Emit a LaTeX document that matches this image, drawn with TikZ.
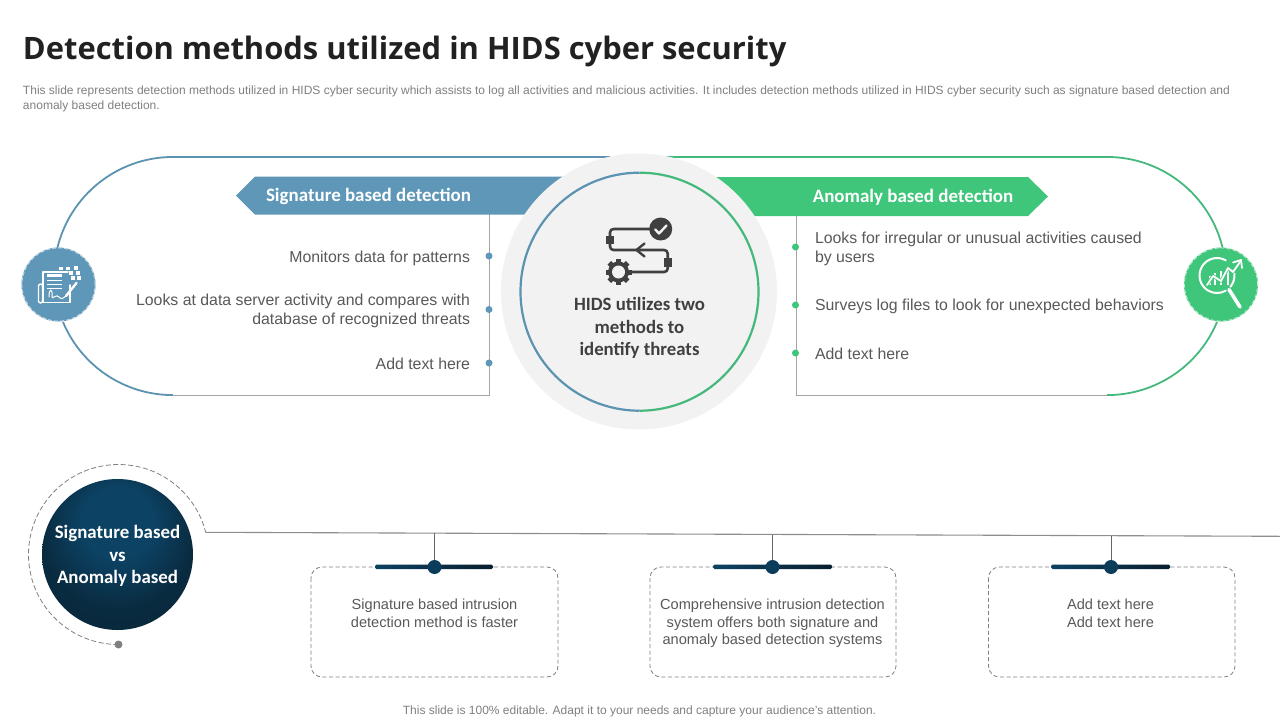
\documentclass[tikz,border=0pt]{standalone}
\usepackage{fontspec}
\setmainfont{Liberation Sans}
\newfontfamily\titlefont{Open Sans}
\newfontfamily\headfont{Carlito}
\usetikzlibrary{calc}
\definecolor{sigblue}{HTML}{5F97B8}
\definecolor{sigline}{HTML}{5B93B1}
\definecolor{anogreen}{HTML}{3FC67B}
\definecolor{anoline}{HTML}{45B97C}
\definecolor{bodygray}{HTML}{595959}
\definecolor{softgray}{HTML}{808080}
\definecolor{rulegray}{HTML}{A6A6A6}
\definecolor{icondark}{HTML}{404040}
\definecolor{navya}{HTML}{0C4263}
\definecolor{navyb}{HTML}{081F2E}
\pgfdeclareradialshading{navyball}{\pgfpoint{0bp}{14bp}}{
  color(0bp)=(navya); color(12bp)=(navya); color(25bp)=(navyb!65!navya); color(50bp)=(navyb)}
\tikzset{
  x=1pt,y=-1pt,
  every node/.style={inner sep=0pt,outer sep=0pt},
  leftitem/.style={anchor=east,align=right,text=bodygray,font=\fontsize{15.85}{19}\selectfont},
  rightitem/.style={anchor=west,align=left,text=bodygray,font=\fontsize{15.85}{19}\selectfont},
  boxtext/.style={anchor=north,align=center,text=bodygray,font=\fontsize{14.6}{17.7}\selectfont},
  headtext/.style={text=white,font=\headfont\bfseries\fontsize{18.95}{22}\selectfont},
  centertext/.style={align=center,text=icondark,font=\headfont\bfseries\fontsize{18.8}{22.5}\selectfont},
  ballabel/.style={align=center,text=white,font=\headfont\bfseries\fontsize{18.9}{22.5}\selectfont},
  bluedot/.style={circle,fill=sigblue,minimum size=7pt},
  greendot/.style={circle,fill=anogreen,minimum size=7pt},
  dashbox/.style={draw=softgray,line width=0.8pt,dash pattern=on 4pt off 2.6pt,rounded corners=11pt},
  stem/.style={draw=icondark!80,line width=0.9pt},
  hub/.style={circle,fill=navya!85!navyb,minimum size=14pt},
  iconline/.style={draw=icondark,line width=2.6pt,line cap=round,line join=round,rounded corners=3.5pt},
  wline/.style={draw=white,line width=1pt,line cap=round,line join=round},
}
\begin{document}
\begin{tikzpicture}
\useasboundingbox (0,0) rectangle (1280,720);
\fill[white] (0,0) rectangle (1280,720);

% title and intro
\node[anchor=base west,text=black!87,font=\titlefont\bfseries\fontsize{30.9}{38}\selectfont] (title) at (23,59) {Detection methods utilized in HIDS cyber security};
\node[anchor=north west,align=left,text=softgray,font=\fontsize{12}{14.6}\selectfont] (intro) at (23,85.9) {This slide represents detection methods utilized in HIDS cyber security which assists to log all activities and malicious activities. It includes detection methods utilized in HIDS cyber security such as signature based detection and\\anomaly based detection.};

% outline
\draw[sigline,line width=1.8pt] (56.9,250) arc[start angle=167.4,end angle=90,radius=119pt] -- (610,157);
\draw[sigline,line width=1.8pt] (63,322) arc[start angle=-157.3,end angle=-90,radius=119pt];
\draw[anoline,line width=1.8pt] (1223.1,250) arc[start angle=12.6,end angle=90,radius=119pt] -- (665,157);
\draw[anoline,line width=1.8pt] (1217,322) arc[start angle=-22.7,end angle=-90,radius=119pt];
\draw[rulegray,line width=1pt] (173,395) -- (489,395) -- (489,214);
\draw[rulegray,line width=1pt] (1107,395) -- (796.5,395) -- (796.5,214);

% banners
\fill[sigblue] (236,195.5) -- (255,176.5) -- (590,176.5) -- (590,214.6) -- (255,214.6) -- cycle;
\fill[anogreen] (1048,196.5) -- (1028,177) -- (690,177) -- (690,216) -- (1028,216) -- cycle;
\node[headtext] (sighead) at (368.5,196.8) {Signature based detection};
\node[headtext] (anohead) at (913,197.5) {Anomaly based detection};

% centre circle
\node[circle,fill=black!5,minimum size=276pt] (hubouter) at (639,291.5) {};
\draw[sigline,line width=2.2pt] (639.5,172.7) arc[start angle=90,end angle=270,radius=119pt];
\draw[anoline,line width=2.2pt] (639.5,172.7) arc[start angle=90,end angle=-90,radius=119pt];
\node[centertext] (hubtext) at (639.5,328) {HIDS utilizes two\\methods to\\identify threats};

% centre icon
\draw[iconline] (652,229) -- (610,229) -- (610,250) -- (667.7,250) -- (667.7,272) -- (628,272);
\fill[icondark] (606.3,235.5) rectangle (614,244);
\fill[icondark] (664,257.5) rectangle (672,267);
\draw[icondark,line width=2.4pt,line cap=round,line join=round] (644.5,243.5) -- (636.5,250) -- (644.5,256.5);
\fill[icondark] (660.7,229) circle (11.5pt);
\draw[black!5,line width=2.4pt,line cap=round,line join=round] (655.3,229.5) -- (659,233.5) -- (666.5,225.5);
\fill[icondark] (618.5,272) circle (10.5pt);
\foreach \a in {0,45,...,315}{\fill[icondark,shift={(618.5,272)},rotate=\a] (9pt,-2.5pt) rectangle (13pt,2.5pt);}
\fill[black!5] (618.5,272) circle (6.5pt);

% left icon
\fill[sigblue] (58.5,284.5) circle (37pt);
\draw[white!65!sigblue,line width=0.9pt,dash pattern=on 4pt off 2pt] (58.5,284.5) circle (36.6pt);
\draw[wline,line width=1.5pt,fill=none] (70,285) -- (70,302.5) -- (43,302.5) -- (43,272) -- (68,272);
\draw[wline,line width=1.4pt] (38.5,286) -- (38.5,301) arc[start angle=180,end angle=360,radius=2pt] -- (42.5,286) arc[start angle=0,end angle=180,radius=2pt];
\draw[white,line width=2.2pt] (47,275.5) -- (62,275.5);
\foreach \yy in {280,284,288}{\draw[white,line width=1pt] (47,\yy) -- (62,\yy);}
\draw[white,line width=1pt,line cap=round] (49,297) .. controls (49,287) and (53,289) .. (52,296) .. controls (51,301) and (57,293) .. (59,297) .. controls (61,300) and (64,298) .. (66,296);
\draw[white,line width=2.4pt,line cap=round] (66,296) -- (76.5,283);
\foreach \px/\py/\sz in {59/266.5/3.5,66/266.5/3.5,73.5/265.5/4.5,69/271/4,76/271/4,71/276/4,77/276/3.5}{\fill[white] (\px,\py) rectangle ++(\sz,\sz);}

% right icon
\fill[anogreen] (1221,284.5) circle (37pt);
\draw[white!65!anogreen,line width=0.9pt,dash pattern=on 4pt off 2pt] (1221,284.5) circle (36.6pt);
\draw[wline,line width=2pt] (1225.75,260.35) arc[start angle=60,end angle=300,radius=17.5pt];
\draw[wline,line width=2pt] (1234.2,272.5) arc[start angle=10,end angle=-40,radius=17.5pt];
\draw[wline,line width=3.6pt] (1229,289.5) -- (1240,307);
\foreach \bx/\by in {1209.7/276,1214.7/273,1221.3/271,1228/268}{\draw[white,line width=2.2pt] (\bx,\by) -- (\bx,285);}
\draw[anogreen,line width=3.4pt,line join=round] (1207,285) -- (1213,276) -- (1221,281) -- (1228,268) -- (1233,272) -- (1239,263);
\draw[wline,line width=1.8pt] (1207,285) -- (1213,276) -- (1221,281) -- (1228,268) -- (1233,272) -- (1240,262);
\draw[wline,line width=1.8pt] (1233,262.5) -- (1241,260) -- (1242,268);

% left items
\node[leftitem] (l1) at (470,258) {Monitors data for patterns};
\node[leftitem] (l2) at (470,311) {Looks at data server activity and compares with\\database of recognized threats};
\node[leftitem] (l3) at (470,364) {Add text here};
\node[bluedot] (ld1) at (489,256) {};
\node[bluedot] (ld2) at (489,309.5) {};
\node[bluedot] (ld3) at (489,363) {};

% right items
\node[rightitem] (r1) at (815,249) {Looks for irregular or unusual activities caused\\by users};
\node[rightitem] (r2) at (815,306.5) {Surveys log files to look for unexpected behaviors};
\node[rightitem] (r3) at (815,354) {Add text here};
\node[greendot] (rd1) at (795.5,247) {};
\node[greendot] (rd2) at (795.5,305) {};
\node[greendot] (rd3) at (795.5,353) {};

% comparison ball
\node[circle,minimum size=151pt,shading=navyball] (ball) at (117.5,554.5) {};
\node[ballabel] (balltext) at (117.5,556) {Signature based\\vs\\Anomaly based};
\node[circle,fill=softgray,minimum size=8pt] (balldot) at (118.5,644.5) {};
\draw[softgray,line width=0.8pt,dash pattern=on 5pt off 2.5pt] (balldot.center) arc[start angle=270,end angle=14.3,radius=90pt];
\coordinate (railstart) at (205.7,532.3);
\coordinate (railend) at (1280,536.3);
\draw[rulegray!85!black,line width=1.1pt] (railstart) -- (railend);

% comparison boxes
\draw[dashbox] (311,567) rectangle (558,677);
\draw[dashbox] (650,567) rectangle (896,677);
\draw[dashbox] (988.5,567) rectangle (1235,677);
\foreach \cx/\cy/\lb/\rb [count=\i] in {434.5/533.3/375/493,772.5/534.5/713/832,1111/535.7/1051/1170}{
  \coordinate (t\i) at (\cx,\cy);
  \shade[left color=navya,right color=navyb,rounded corners=1.5pt] (\lb,564.5) rectangle (\rb,569);
  \node[hub] (h\i) at (\cx,567) {};
  \draw[stem] (t\i) -- (h\i);
}
\node[boxtext] (b1) at (434.5,598.8) {Signature based intrusion\\detection method is faster};
\node[boxtext] (b2) at (772.5,598.8) {Comprehensive intrusion detection\\system offers both signature and\\anomaly based detection systems};
\node[boxtext] (b3) at (1110.5,598.8) {Add text here\\Add text here};

% footer
\node[text=softgray,font=\fontsize{12}{14}\selectfont] (foot) at (639.5,711) {This slide is 100\% editable. Adapt it to your needs and capture your audience’s attention.};
\end{tikzpicture}
\end{document}
